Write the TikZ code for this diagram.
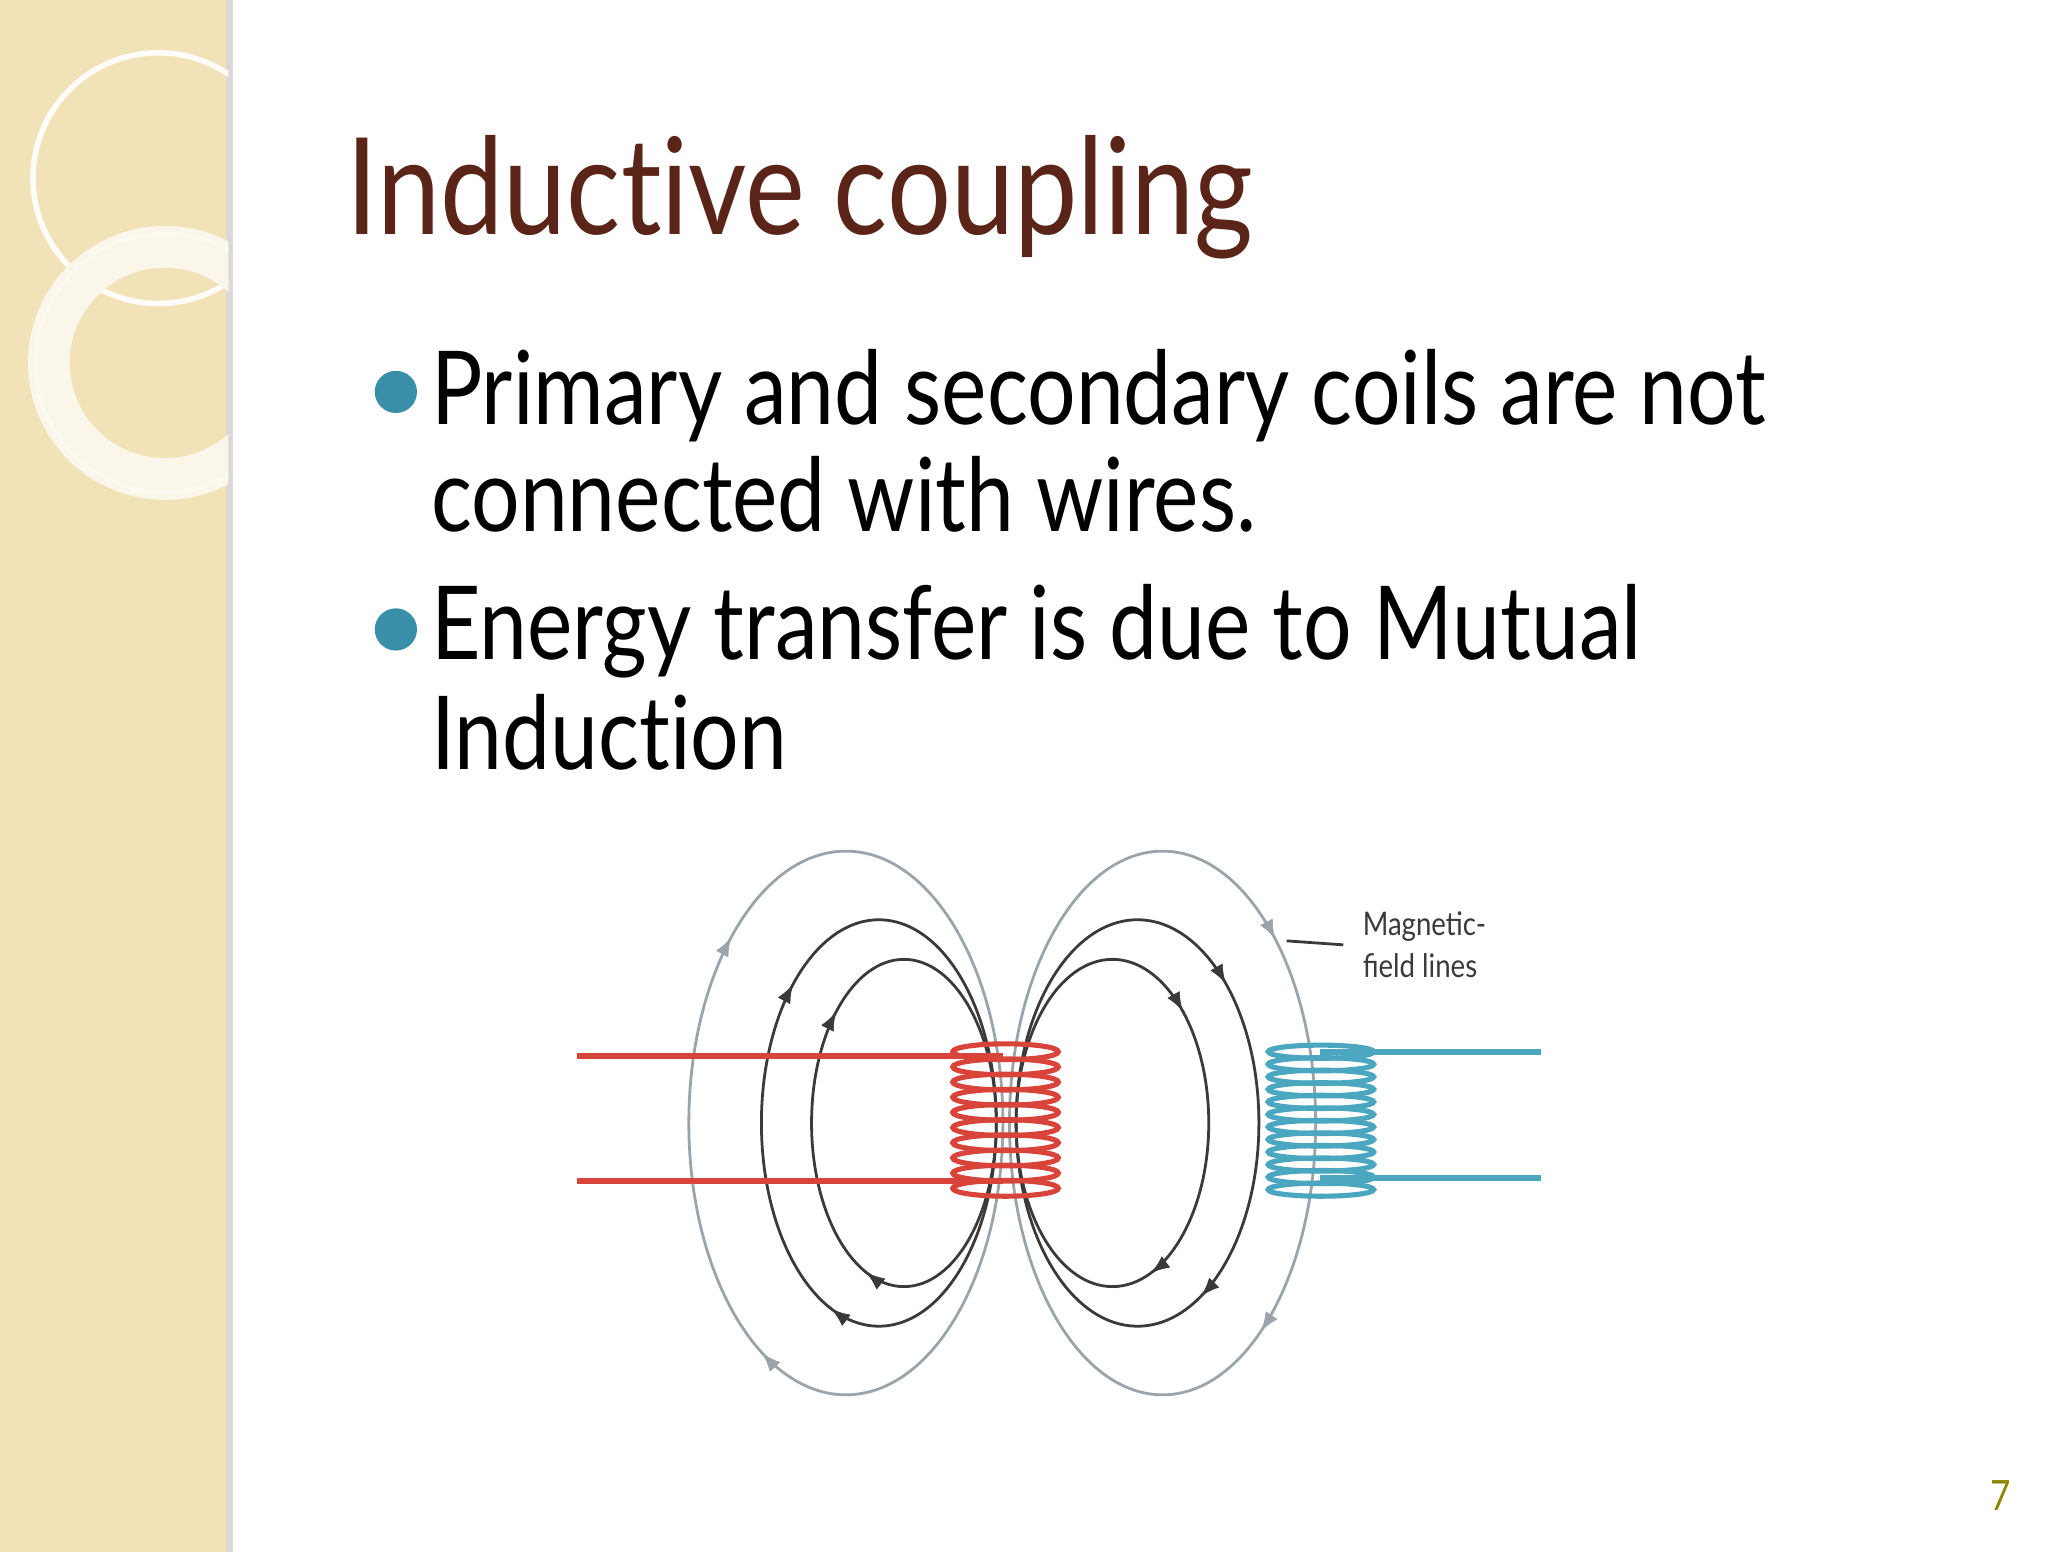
\documentclass[tikz,border=0pt]{standalone}
\usepackage{fontspec}
\setmainfont[FakeStretch=0.84, Ligatures=NoCommon]{Lato}
\newfontfamily\labfont[FakeStretch=0.85]{Lato}
\usetikzlibrary{decorations.markings,arrows.meta}
\definecolor{strip}{HTML}{F2E2B8}
\definecolor{titlec}{HTML}{5A2418}
\definecolor{bul}{HTML}{3A8FA8}
\definecolor{redc}{HTML}{D9443A}
\definecolor{bluec}{HTML}{4AA7BF}
\definecolor{dk}{HTML}{3A3A3A}
\definecolor{lt}{HTML}{9AA4AA}
\tikzset{
  fl/.style={line width=0.6pt},
  arr/.style={postaction={decorate},decoration={markings,
     mark=at position #1 with {\arrow{Latex[length=4pt,width=3pt]}}}},
  body/.style={font=\fontsize{22pt}{26pt}\selectfont, anchor=base west, inner sep=0},
}
\begin{document}
\begin{tikzpicture}[x=0.01cm,y=-0.01cm]
\useasboundingbox (0,0) rectangle (1552,1176);
\fill[white] (0,0) rectangle (1552,1176);
\fill[strip] (0,0) rectangle (173,1176);
\draw[black!15, line width=1.5pt] (174,0) -- (174,1176);
\begin{scope}
\clip (0,0) rectangle (173,1176);
\draw[white!90!strip, line width=1.2pt] (120,135) circle (95);
\draw[white!70!strip, line width=9pt] (125,275) circle (88);
\draw[white!80!strip, line width=1pt] (125,275) circle (98);
\fill[white!60!strip, opacity=0.6] (0,0) -- (130,0) arc (0:-90:130 and 140) -- cycle;
\end{scope}
% title
\node[anchor=base west, inner sep=0, text=titlec, font=\fontsize{29pt}{34pt}\selectfont] (title) at (262,178) {Inductive coupling};
% bullets
\fill[bul] (300,297) circle (16);
\fill[bul] (300,477) circle (16);
\node[body] (b1) at (326,322) {Primary and secondary coils are not};
\node[body] (b1b) at (326,403) {connected with wires.};
\node[body] (b2) at (326,500) {Energy transfer is due to Mutual};
\node[body] (b2b) at (326,583) {Induction};
% field lines
\draw[fl, dk, arr=0.3, arr=0.64] (685,851) ellipse (70 and 124);
\draw[fl, dk, arr=0.3, arr=0.64] (666,851) ellipse (89 and 154);
\draw[fl, lt, arr=0.32, arr=0.64] (641,851) ellipse (119 and 206);
\draw[fl, dk, arr=0.2, arr=0.86] (843,851) ellipse (73 and 124);
\draw[fl, dk, arr=0.18, arr=0.86] (862,851) ellipse (92 and 154);
\draw[fl, lt, arr=0.16, arr=0.86] (881,851) ellipse (116 and 206);
% wires
\draw[redc, line width=1.3pt] (437,800) -- (760,800);
\draw[redc, line width=1.3pt] (437,895) -- (760,895);
\draw[bluec, line width=1.3pt] (1000,797) -- (1168,797);
\draw[bluec, line width=1.3pt] (1000,893) -- (1168,893);
% coils
\foreach \i in {0,...,9} \draw[redc, line width=1.1pt] (762,{797+\i*11.5}) ellipse (40 and 6);
\foreach \i in {0,...,11} \draw[bluec, line width=1.1pt] (1001,{797+\i*9.5}) ellipse (40 and 5);
% label
\coordinate (lp) at (975,713);
\node[anchor=west, align=left, inner sep=0, font=\labfont\fontsize{7pt}{9pt}\selectfont, text=dk] (lab) at (1032,716) {Magnetic-\\field lines};
\draw[dk, line width=0.6pt] (lp) -- ([xshift=-4pt]lab.west);
\node[anchor=base, text=olive, font=\fontsize{9pt}{10pt}\selectfont] (pg) at (1516,1145) {7};
\end{tikzpicture}
\end{document}
